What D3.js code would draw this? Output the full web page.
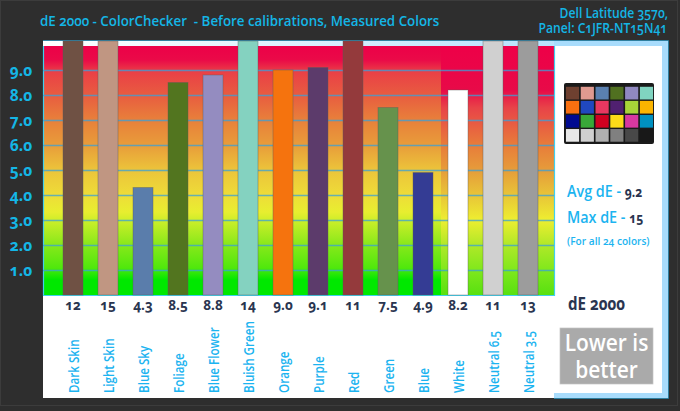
<!DOCTYPE html>
<html><head><meta charset="utf-8">
<script src="https://cdn.jsdelivr.net/npm/d3@7"></script>
<style>
html,body{margin:0;padding:0;background:#2e2e2e;overflow:hidden}
text{font-family:"Open Sans","Noto Sans",sans-serif;font-feature-settings:"onum" 1;}
</style></head><body>
<svg id="c" width="680" height="411"></svg>
<script>
const categories=["Dark Skin","Light Skin","Blue Sky","Foliage","Blue Flower","Bluish Green","Orange","Purple","Red","Green","Blue","White","Neutral 6.5","Neutral 3.5"];
const values=[12,15,4.3,8.5,8.8,14,9.0,9.1,11,7.5,4.9,8.2,11,13];
const valueLabels=["12","15","4.3","8.5","8.8","14","9.0","9.1","11","7.5","4.9","8.2","11","13"];
const barColors=["#6f5144","#c09682","#5a7dab","#52751f","#948cc0","#84d2c0","#f5730e","#5c3b6b","#943a3c","#66924c","#343c94","#ffffff","#d0d0d0","#9c9c9c"];
const yTicks=[1,2,3,4,5,6,7,8,9];
const swatchColors=["#6e4030","#e09a90","#5a80b0","#507020","#9088c0","#80d4c0","#f87010","#2048c0","#e83860","#502070","#a8d438","#fbb400","#000a90","#38a838","#d00020","#fcdc18","#d838a0","#0090c0","#e8e8e8","#d0d0d0","#b0b0b0","#808080","#484848","#181818"];
const leftStops=[[46,"#ec0048"],[60,"#ea0a48"],[72,"#ea4046"],[95,"#e85c40"],[120,"#e8803a"],[145,"#e89c3a"],[170,"#ecc43a"],[195,"#eedc38"],[212,"#e8ee30"],[222,"#c8ee28"],[245,"#88e81a"],[268,"#50e80c"],[280,"#00e800"],[295,"#00e800"]];
const rightStops=[[46,"#ee0048"],[90,"#e80a48"],[108,"#e84448"],[145,"#e87c3a"],[170,"#e69c3a"],[195,"#e8c438"],[220,"#eeee30"],[245,"#b0e828"],[270,"#80e81c"],[295,"#58e010"]];

const svg=d3.select("#c");
const CY="#14b6e6", CL="#1cb4f0", DK="#2a3550";
const L=43,R=554,T=41,PT=46,B=295;
const y=d3.scaleLinear().domain([0,10.16]).range([B,T]).clamp(true);
const x=d3.scaleBand().domain(categories).range([55.5,545.5]).paddingInner(15/35).paddingOuter(7.5/35);
const defs=svg.append("defs");
function grad(id,stops){
  const g=defs.append("linearGradient").attr("id",id).attr("gradientUnits","userSpaceOnUse").attr("x1",0).attr("x2",0).attr("y1",PT).attr("y2",B);
  g.selectAll("stop").data(stops).join("stop").attr("offset",d=>(d[0]-PT)/(B-PT)).attr("stop-color",d=>d[1]);
}
grad("gl",leftStops);grad("gr",rightStops);
const tg=defs.append("linearGradient").attr("id","gt");
tg.append("stop").attr("offset",0).attr("stop-color","#ffffff");
tg.append("stop").attr("offset",1).attr("stop-color","#a8dcfc");
function label(parent,xx,yy,k,txt){
  return parent.append("text").attr("transform",`translate(${xx},${yy}) scale(${k},1)`).text(txt);
}

// image border
svg.append("rect").attr("x",.5).attr("y",.5).attr("width",677).attr("height",405).attr("fill","none").attr("stroke","#3c3c3c");
// frame
svg.append("rect").attr("x",L).attr("y",T).attr("width",668-L).attr("height",398-T).attr("fill","#fff");
svg.append("rect").attr("x",L).attr("y",T).attr("width",668-L).attr("height",5).attr("fill","url(#gt)");
svg.append("rect").attr("x",R).attr("y",T).attr("width",668-R).attr("height",5).attr("fill","#a8dcfc");
svg.append("rect").attr("x",662).attr("y",T).attr("width",6).attr("height",357).attr("fill","#a8dcfc");
svg.append("rect").attr("x",R).attr("y",393).attr("width",668-R).attr("height",5).attr("fill","#a8dcfc");
svg.append("path").attr("d",`M${R} 398.5H668.5V40.5H43`).attr("fill","none").attr("stroke","#2f7f9f").attr("stroke-width",1);
// plot bg
svg.append("rect").attr("x",L).attr("y",PT).attr("width",441-L).attr("height",B-PT).attr("fill","url(#gl)");
svg.append("rect").attr("x",441).attr("y",PT).attr("width",R-441).attr("height",B-PT).attr("fill","url(#gr)");
svg.append("path").attr("d",`M${L+.5} ${PT}V${B+.5}H${R+.5}V${PT}`).attr("fill","none").attr("stroke","#3fd0ee").attr("stroke-width",1.2);

// y axis gridlines
const grid=svg.append("g").attr("transform",`translate(${L},0)`).call(d3.axisRight(y).tickValues(yTicks).tickSize(R-L).tickFormat(""));
grid.select(".domain").remove();
grid.selectAll("line").attr("stroke","#3aa0d8").attr("stroke-opacity",.75).attr("stroke-width",1.3);

// y labels
const ya=svg.append("g").attr("transform","translate(33,0)").call(d3.axisLeft(y).tickValues(yTicks).tickSize(0).tickFormat(d3.format(".1f")));
ya.select(".domain").remove();
ya.selectAll("text").attr("x",-12).attr("text-anchor","middle").attr("dy","0.36em").attr("fill",CY).attr("font-size",15.5).attr("font-weight",700);

// bars
svg.append("g").selectAll("rect").data(values).join("rect")
  .attr("x",(d,i)=>x(categories[i])).attr("width",x.bandwidth())
  .attr("y",d=>y(d)).attr("height",d=>B-y(d))
  .attr("fill",(d,i)=>barColors[i]).attr("stroke","#5a5a5a").attr("stroke-opacity",.4).attr("stroke-width",1);

// value labels
const xa=svg.append("g").attr("transform",`translate(0,${B})`).call(d3.axisBottom(x).tickSize(0).tickFormat((d,i)=>valueLabels[i]));
xa.select(".domain").remove();
xa.selectAll("text").attr("y",0).attr("dy","15px").attr("fill",DK).attr("font-size",13.5).attr("font-weight",700);

// category labels
svg.append("g").selectAll("text").data(categories).join("text")
  .attr("transform",d=>`translate(${x(d)+x.bandwidth()/2+5.5},393) rotate(-90) scale(.83,1)`)
  .attr("fill",CL).attr("font-size",14).attr("font-weight",600).text(d=>d);

// titles
label(svg,40,26,.89,"dE 2000 - ColorChecker  - Before calibrations, Measured Colors").attr("fill",CY).attr("font-size",15).attr("font-weight",600).style("white-space","pre");
const rt=svg.append("g").attr("text-anchor","end").attr("fill",CY).attr("font-size",13.5).attr("font-weight",600);
label(rt,668,17.5,.9,"Dell Latitude 3570,");
label(rt,667,33,.9,"Panel: C1JFR-NT15N41");

// colour checker
svg.append("rect").attr("x",564).attr("y",83).attr("width",90).attr("height",61).attr("rx",2).attr("fill","#1a1a1a");
const sx=d3.scaleBand().domain(d3.range(6)).range([565.5,653.5]).paddingInner(.11).paddingOuter(.03);
const sy=d3.scaleBand().domain(d3.range(4)).range([86.5,142]).paddingInner(.1).paddingOuter(.02);
svg.append("g").selectAll("rect").data(swatchColors).join("rect")
  .attr("x",(d,i)=>sx(i%6)).attr("y",(d,i)=>sy(Math.floor(i/6)))
  .attr("width",sx.bandwidth()).attr("height",sy.bandwidth()).attr("fill",d=>d);

// stats
function stat(yy,lab,val){
  const t=label(svg,567,yy,.87,"");
  t.append("tspan").attr("fill",CL).attr("font-size",16.5).attr("font-weight",600).text(lab+" - ");
  t.append("tspan").attr("fill",DK).attr("font-size",14).attr("font-weight",700).text(val);
}
stat(197,"Avg dE","9.2");
stat(223,"Max dE","15");
label(svg,567,245,.88,"(For all 24 colors)").attr("fill",CL).attr("font-size",11.5).attr("font-weight",600);
label(svg,568,310,.89,"dE 2000").attr("fill",DK).attr("font-size",17).attr("font-weight",700);

// lower is better
svg.append("rect").attr("x",560).attr("y",328).attr("width",93).attr("height",56).attr("fill","#aaaaaa").attr("stroke","#c4c4c4").attr("stroke-width",.7);
const lb=svg.append("g").attr("text-anchor","middle").attr("fill","#fff").attr("font-size",23).attr("font-weight",600);
label(lb,606.5,351,.91,"Lower is");
label(lb,606.5,378,.91,"better");
</script></body></html>
